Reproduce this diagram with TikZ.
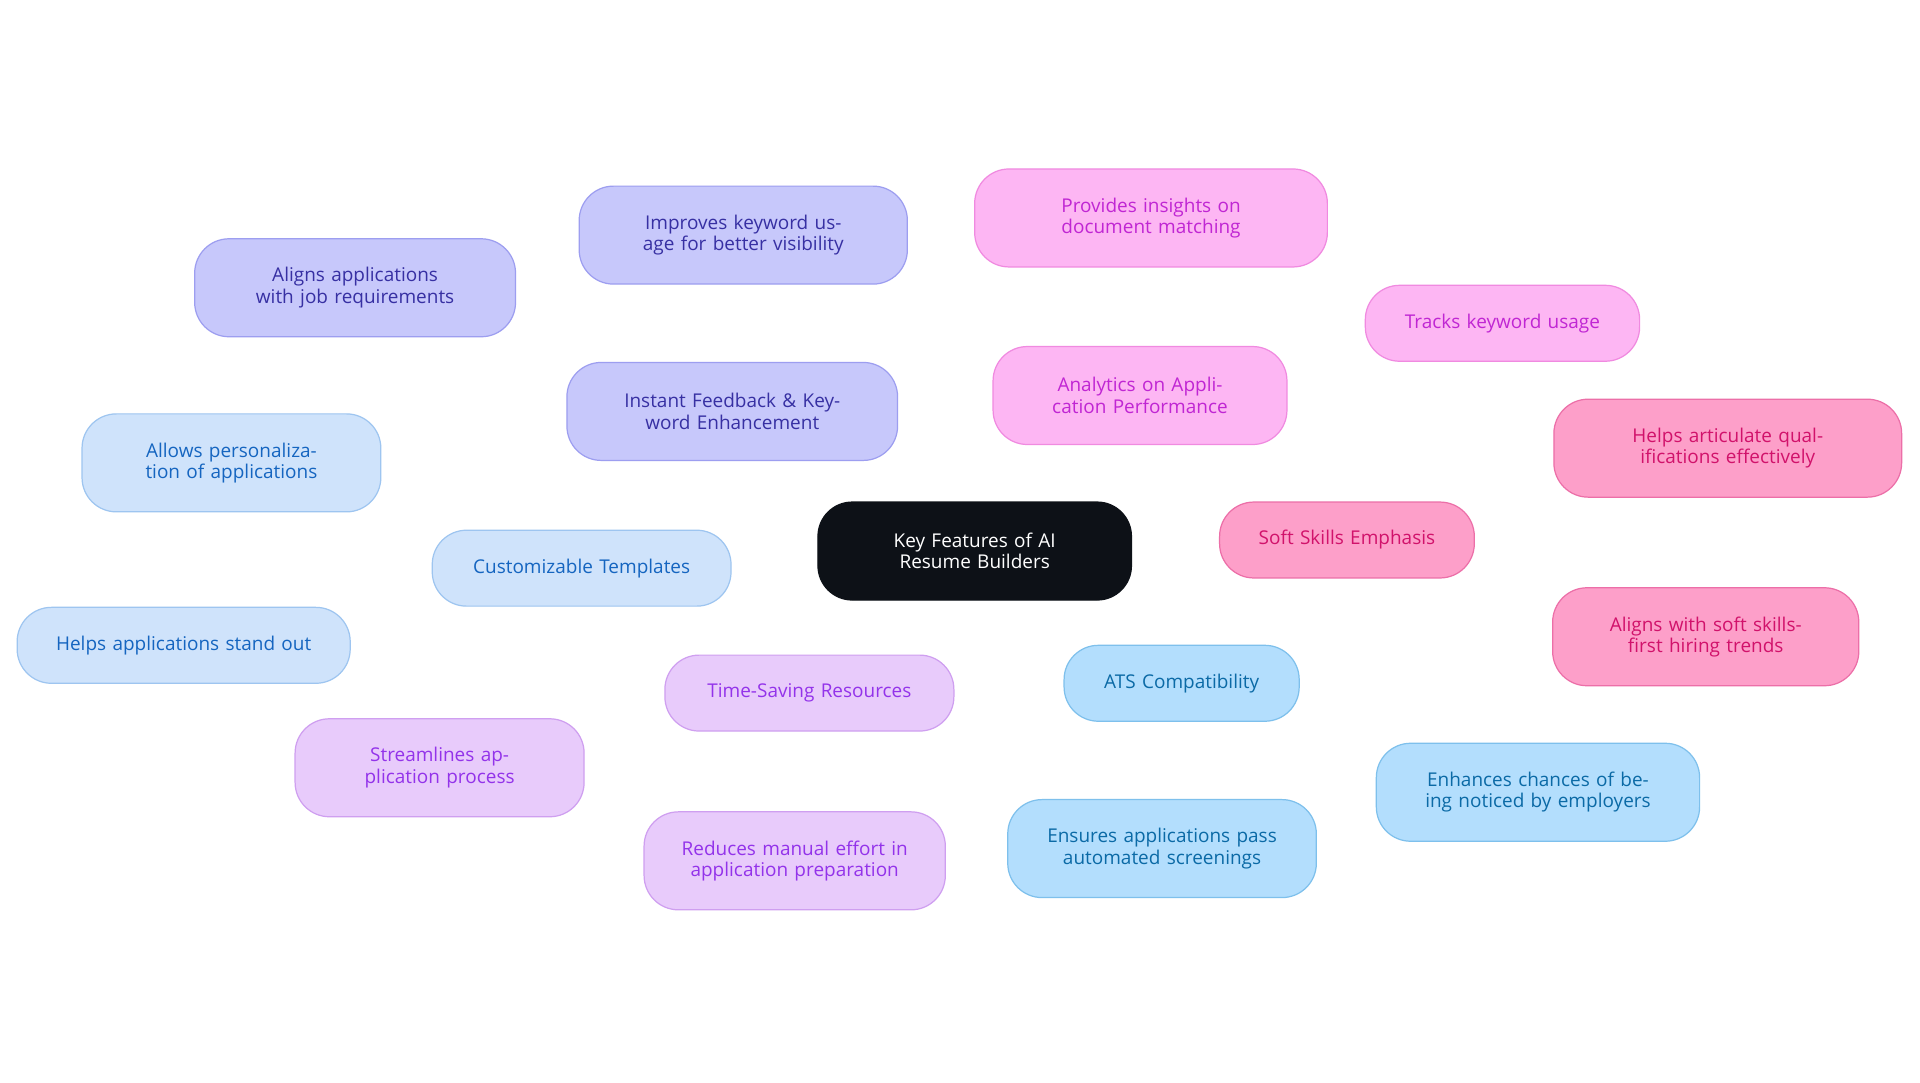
\documentclass[tikz,border=0pt]{standalone}
\usepackage{fontspec}
\setmainfont{Open Sans}
\usetikzlibrary{backgrounds}
\definecolor{cfB}{HTML}{CFE3FB}\definecolor{cdB}{HTML}{9EC5F0}\definecolor{ctB}{HTML}{1565C0}
\definecolor{cfI}{HTML}{C7C8FB}\definecolor{cdI}{HTML}{9D9EF0}\definecolor{ctI}{HTML}{3730A3}
\definecolor{cfP}{HTML}{FDB6F3}\definecolor{cdP}{HTML}{F08AE0}\definecolor{ctP}{HTML}{C026D3}
\definecolor{cfH}{HTML}{FD9FC9}\definecolor{cdH}{HTML}{EC6FA8}\definecolor{ctH}{HTML}{D1126B}
\definecolor{cfS}{HTML}{B3DEFD}\definecolor{cdS}{HTML}{7EC0EC}\definecolor{ctS}{HTML}{0B6AA6}
\definecolor{cfV}{HTML}{E8CBFB}\definecolor{cdV}{HTML}{CF9FF0}\definecolor{ctV}{HTML}{9333EA}
\definecolor{ccen}{HTML}{0D1117}
\tikzset{x=1pt,y=-1pt,
 box/.style={rounded corners=28pt,line width=1pt,align=center,font=\fontsize{15.5}{17.5}\selectfont,inner sep=0pt},
 bx/.style 2 args={box,minimum width=#1,minimum height=#2,text width=#1-36},
 tB/.style={fill=cfB,draw=cdB,text=ctB},tI/.style={fill=cfI,draw=cdI,text=ctI},
 tP/.style={fill=cfP,draw=cdP,text=ctP},tH/.style={fill=cfH,draw=cdH,text=ctH},
 tS/.style={fill=cfS,draw=cdS,text=ctS},tV/.style={fill=cfV,draw=cdV,text=ctV},
 e/.style={line width=2.5pt,draw=#1}}
\begin{document}
\begin{tikzpicture}
\useasboundingbox[fill=white] (0,0) rectangle (1568,884);
\node[bx={256}{80},fill=ccen,draw=ccen,text=white] (c) at (796,450) {Key Features of AI Resume Builders};
\node[bx={270}{80},tI] (if) at (598,336) {Instant Feedback \& Keyword Enhancement};
\node[bx={262}{80},tI] (al) at (290,235) {Aligns applications with job requirements};
\node[bx={268}{80},tI] (im) at (607,192) {Improves keyword usage for better visibility};
\node[bx={244}{62},tB] (ct) at (475,464) {Customizable Templates};
\node[bx={244}{80},tB] (ap) at (189,378) {Allows personalization of applications};
\node[bx={272}{62},tB] (hs) at (150,527) {Helps applications stand out};
\node[bx={236}{62},tV] (ts) at (661,566) {Time-Saving Resources};
\node[bx={236}{80},tV] (st) at (359,627) {Streamlines application process};
\node[bx={246}{80},tV] (rm) at (649,703) {Reduces manual effort in application preparation};
\node[bx={192}{62},tS] (at) at (965,558) {ATS Compatibility};
\node[bx={252}{80},tS] (en) at (949,693) {Ensures applications pass automated screenings};
\node[bx={264}{80},tS] (eh) at (1256,647) {Enhances chances of being noticed by employers};
\node[bx={208}{62},tH] (ss) at (1100,441) {Soft Skills Emphasis};
\node[bx={284}{80},tH] (ha) at (1411,366) {Helps articulate qualifications effectively};
\node[bx={250}{80},tH] (as) at (1393,520) {Aligns with soft skills-first hiring trends};
\node[bx={240}{80},tP] (an) at (931,323) {Analytics on Application Performance};
\node[bx={288}{80},tP] (pi) at (940,178) {Provides insights on document matching};
\node[bx={224}{62},tP] (tk) at (1227,264) {Tracks keyword usage};
\begin{scope}[on background layer]
\draw[e=cdI] (c)--(if) (if)--(al) (if)--(im);
\draw[e=cdB] (c)--(ct) (ct)--(ap) (ct)--(hs);
\draw[e=cdV] (c)--(ts) (ts)--(st) (ts)--(rm);
\draw[e=cdS] (c)--(at) (at)--(en) (at)--(eh);
\draw[e=cdH] (c)--(ss) (ss)--(ha) (ss)--(as);
\draw[e=cdP] (c)--(an) (an)--(pi) (an)--(tk);
\end{scope}
\end{tikzpicture}
\end{document}
